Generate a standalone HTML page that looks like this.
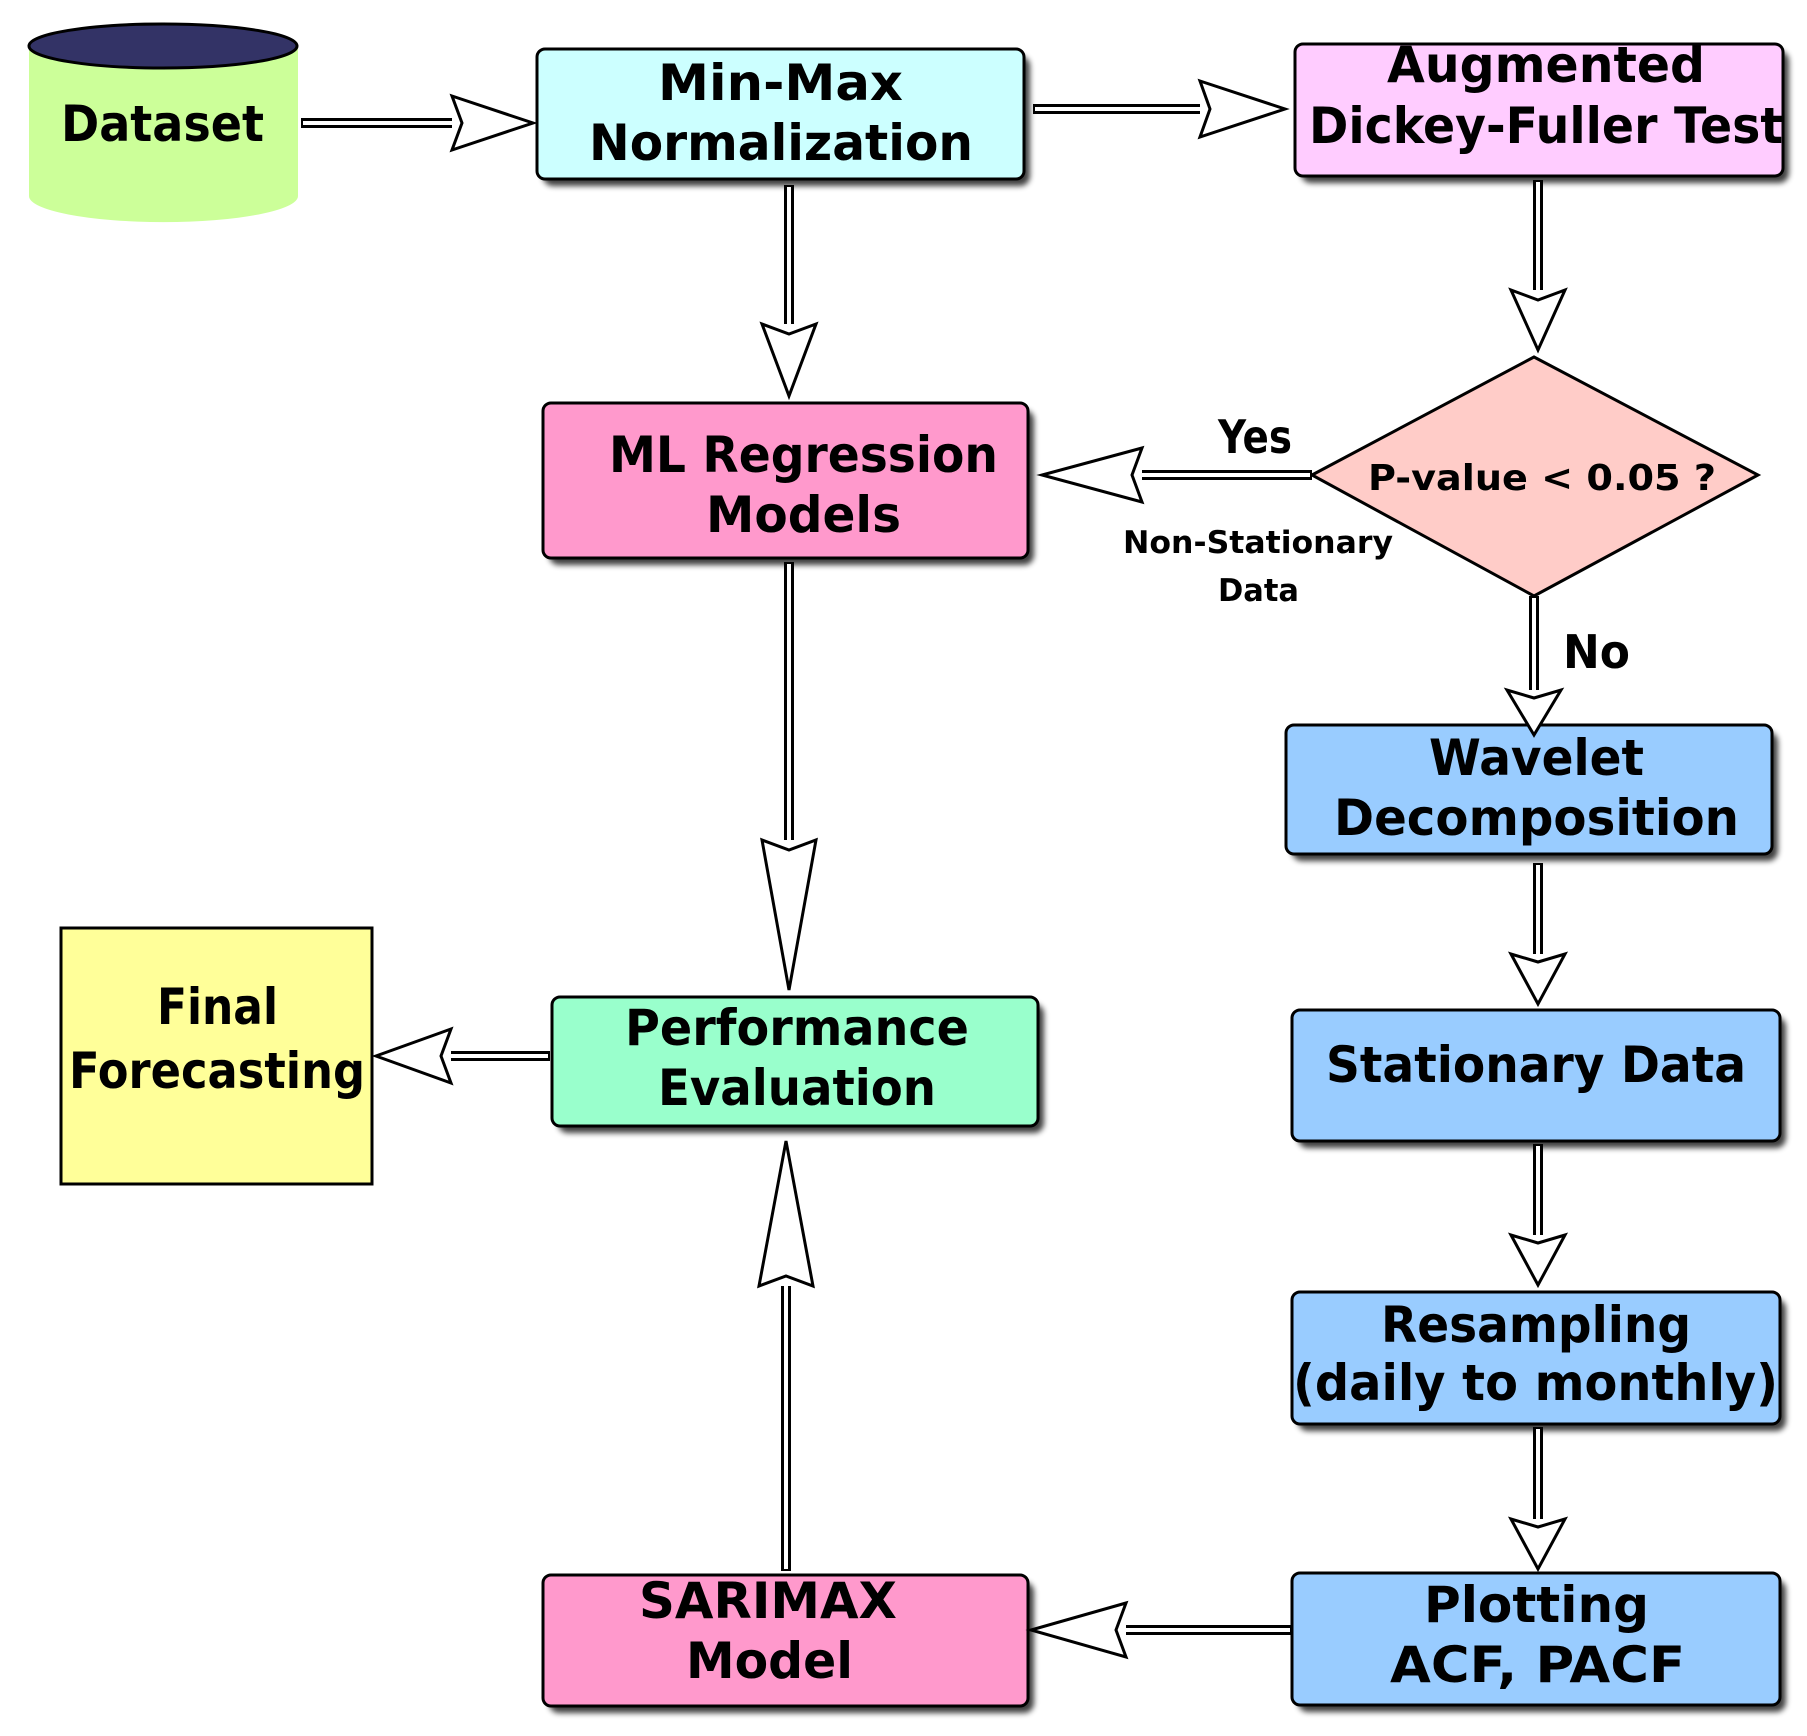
<!DOCTYPE html>
<html><head><meta charset="utf-8"><style>
html,body{margin:0;padding:0;background:#fff;}
svg{display:block;}
text{font-family:"DejaVu Sans","Liberation Sans",sans-serif;font-weight:bold;fill:#000;}
</style></head><body>
<svg width="1807" height="1736" viewBox="0 0 1807 1736" xmlns="http://www.w3.org/2000/svg">
<defs>
<filter id="sh" x="-10%" y="-10%" width="130%" height="140%"><feGaussianBlur stdDeviation="3"/></filter>
</defs>
<!-- shadows -->
<g fill="#000" opacity="0.75" filter="url(#sh)">
<rect x="543" y="56" width="487" height="130" rx="10"/>
<rect x="1301" y="51" width="488" height="132" rx="10"/>
<rect x="549" y="410" width="485" height="155" rx="10"/>
<rect x="1292" y="732" width="486" height="129" rx="10"/>
<rect x="1298" y="1017" width="488" height="131" rx="10"/>
<rect x="1298" y="1299" width="488" height="132" rx="10"/>
<rect x="1298" y="1580" width="488" height="132" rx="10"/>
<rect x="549" y="1582" width="485" height="131" rx="10"/>
<rect x="558" y="1004" width="486" height="129" rx="10"/>
</g>
<!-- cylinder -->
<path d="M29 46 L29 196 A134 26 0 0 0 298 196 L298 46 Z" fill="#ccff99"/>
<ellipse cx="163" cy="46" rx="134" ry="22" fill="#333366" stroke="#000" stroke-width="3"/>
<!-- boxes -->
<g stroke="#000" stroke-width="3">
<rect x="537" y="49" width="487" height="130" rx="8" fill="#ccffff"/>
<rect x="1295" y="44" width="488" height="132" rx="8" fill="#ffccff"/>
<rect x="543" y="403" width="485" height="155" rx="8" fill="#ff99cc"/>
<polygon points="1312,475 1534,357 1758,475 1534,596" fill="#ffccc8"/>
<rect x="1286" y="725" width="486" height="129" rx="8" fill="#99ccff"/>
<rect x="1292" y="1010" width="488" height="131" rx="8" fill="#99ccff"/>
<rect x="1292" y="1292" width="488" height="132" rx="8" fill="#99ccff"/>
<rect x="1292" y="1573" width="488" height="132" rx="8" fill="#99ccff"/>
<rect x="543" y="1575" width="485" height="131" rx="8" fill="#ff99cc"/>
<rect x="552" y="997" width="486" height="129" rx="8" fill="#99ffcc"/>
<rect x="61" y="928" width="311" height="256" fill="#ffff99"/>
</g>
<!-- arrows: shafts -->
<g stroke="#000" stroke-width="10" fill="none">
<path d="M301 123 H452 M1033 109 H1200 M789 185 V324 M1538 180 V290 M1312 475 H1142 M1534 596 V690 M789 562 V840 M1538 863 V954 M1538 1144 V1235 M1538 1427 V1519 M1292 1630 H1126 M786 1571 V1286 M550 1056 H451"/>
</g>
<g stroke="#fff" stroke-width="4" fill="none">
<path d="M303 123 H455 M1035 109 H1203 M789 187 V327 M1538 182 V293 M1310 475 H1139 M1534 598 V693 M789 564 V843 M1538 865 V957 M1538 1146 V1238 M1538 1429 V1522 M1290 1630 H1123 M786 1569 V1283 M548 1056 H448"/>
</g>
<!-- heads -->
<g fill="#fff" stroke="#000" stroke-width="3" stroke-linejoin="miter">
<polygon points="452,96 533,123 452,150 462,123"/>
<polygon points="1200,81 1285,109 1200,137 1210,109"/>
<polygon points="762,324 789,396 816,324 789,334"/>
<polygon points="1511,290 1538,350 1565,290 1538,300"/>
<polygon points="1142,448 1042,475 1142,502 1132,475"/>
<polygon points="1507,690 1534,735 1561,690 1534,698"/>
<polygon points="762,840 789,990 816,840 789,850"/>
<polygon points="1511,954 1538,1004 1565,954 1538,962"/>
<polygon points="1511,1235 1538,1285 1565,1235 1538,1243"/>
<polygon points="1511,1519 1538,1569 1565,1519 1538,1527"/>
<polygon points="1126,1603 1031,1630 1126,1657 1116,1630"/>
<polygon points="759,1286 786,1141 813,1286 786,1276"/>
<polygon points="451,1029 376,1056 451,1083 441,1056"/>
</g>
<!-- text -->
<g font-size="50" lengthAdjust="spacingAndGlyphs">
<text x="61" y="141" textLength="203" lengthAdjust="spacingAndGlyphs">Dataset</text>
<text x="658" y="100" textLength="245" lengthAdjust="spacingAndGlyphs">Min-Max</text>
<text x="589" y="160" textLength="384" lengthAdjust="spacingAndGlyphs">Normalization</text>
<text x="1387" y="82" textLength="318" lengthAdjust="spacingAndGlyphs">Augmented</text>
<text x="1309" y="143" textLength="474" lengthAdjust="spacingAndGlyphs">Dickey-Fuller Test</text>
<text x="609" y="472" textLength="389" lengthAdjust="spacingAndGlyphs">ML Regression</text>
<text x="706" y="532" textLength="195" lengthAdjust="spacingAndGlyphs">Models</text>
<text x="1429" y="775" textLength="215" lengthAdjust="spacingAndGlyphs">Wavelet</text>
<text x="1334" y="835" textLength="405" lengthAdjust="spacingAndGlyphs">Decomposition</text>
<text x="1326" y="1082" textLength="420" lengthAdjust="spacingAndGlyphs">Stationary Data</text>
<text x="1381" y="1342" textLength="310" lengthAdjust="spacingAndGlyphs">Resampling</text>
<text x="1293" y="1400" textLength="485" lengthAdjust="spacingAndGlyphs">(daily to monthly)</text>
<text x="1424" y="1622" textLength="225" lengthAdjust="spacingAndGlyphs">Plotting</text>
<text x="1390" y="1682" textLength="295" lengthAdjust="spacingAndGlyphs">ACF, PACF</text>
<text x="639" y="1618" textLength="258" lengthAdjust="spacingAndGlyphs">SARIMAX</text>
<text x="686" y="1678" textLength="167" lengthAdjust="spacingAndGlyphs">Model</text>
<text x="625" y="1045" textLength="344" lengthAdjust="spacingAndGlyphs">Performance</text>
<text x="658" y="1105" textLength="278" lengthAdjust="spacingAndGlyphs">Evaluation</text>
<text x="157" y="1024" textLength="121" lengthAdjust="spacingAndGlyphs">Final</text>
<text x="69" y="1088" textLength="296" lengthAdjust="spacingAndGlyphs">Forecasting</text>
</g>
<text x="1368" y="490" font-size="36" textLength="348" lengthAdjust="spacingAndGlyphs">P-value &lt; 0.05 ?</text>
<text x="1218" y="453" font-size="46" textLength="74" lengthAdjust="spacingAndGlyphs">Yes</text>
<text x="1563" y="668" font-size="46" textLength="67" lengthAdjust="spacingAndGlyphs">No</text>
<text x="1123" y="553" font-size="31" textLength="270" lengthAdjust="spacingAndGlyphs">Non-Stationary</text>
<text x="1218" y="601" font-size="31" textLength="81" lengthAdjust="spacingAndGlyphs">Data</text>
</svg>
</body></html>
